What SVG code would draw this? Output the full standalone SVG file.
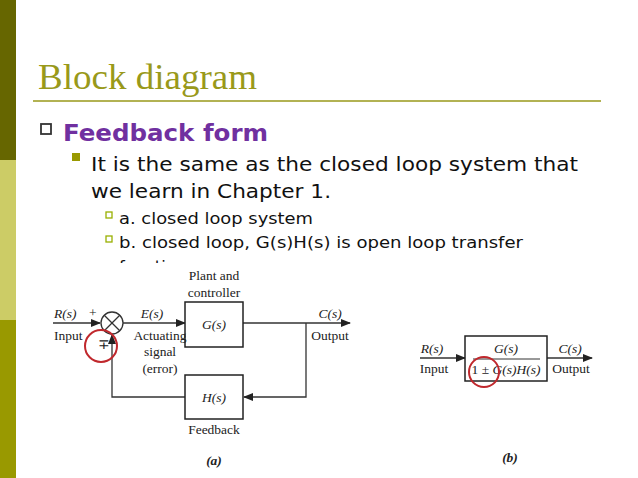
<svg xmlns="http://www.w3.org/2000/svg" width="638" height="478" viewBox="0 0 638 478">
<style>
.s{font-family:"Liberation Serif",serif;font-size:13.5px;fill:#222}
.i{font-style:italic}
.ln{stroke:#333;stroke-width:1.3;fill:none}
.b{font-family:"DejaVu Sans","Noto Sans",sans-serif;fill:#111}
</style>
<defs><marker id="a" markerWidth="10" markerHeight="8" refX="9" refY="4" orient="auto" markerUnits="userSpaceOnUse"><path d="M0,0 L10,4 L0,8 Z" fill="#222"/></marker></defs>
<rect width="638" height="478" fill="#fff"/>
<rect x="0" y="0" width="16" height="160" fill="#666600"/>
<rect x="0" y="160" width="16" height="160" fill="#cccc66"/>
<rect x="0" y="320" width="16" height="158" fill="#999900"/>
<text x="38" y="89" font-family="Liberation Serif,serif" font-size="36" fill="#99991a" textLength="219" lengthAdjust="spacingAndGlyphs">Block diagram</text>
<line x1="33" y1="101" x2="601" y2="101" stroke="#99991a" stroke-width="1.5"/>
<rect x="41" y="124" width="10" height="10" fill="none" stroke="#333" stroke-width="1.8"/>
<text x="63" y="141" font-family="DejaVu Sans,sans-serif" font-weight="bold" font-size="23" fill="#7030a0" textLength="205" lengthAdjust="spacingAndGlyphs">Feedback form</text>
<rect x="72" y="153" width="8" height="8" fill="#999900"/>
<text class="b" x="91" y="171" font-size="20" textLength="487" lengthAdjust="spacingAndGlyphs">It is the same as the closed loop system that</text>
<text class="b" x="91" y="198" font-size="20" textLength="240" lengthAdjust="spacingAndGlyphs">we learn in Chapter 1.</text>
<rect x="106" y="212" width="6" height="6" fill="none" stroke="#99b000" stroke-width="1.3"/>
<text class="b" x="119" y="224" font-size="16.5" textLength="194" lengthAdjust="spacingAndGlyphs">a. closed loop system</text>
<rect x="106" y="236" width="6" height="6" fill="none" stroke="#99b000" stroke-width="1.3"/>
<text class="b" x="119" y="248" font-size="16.5" textLength="404" lengthAdjust="spacingAndGlyphs">b. closed loop, G(s)H(s) is open loop transfer</text>
<text class="b" x="119" y="272" font-size="16.5">function</text>
<rect x="40" y="263" width="590" height="215" fill="#fff"/>
<g id="connectors">
<line class="ln" x1="53" y1="323" x2="100" y2="323" marker-end="url(#a)"/>
<line class="ln" x1="123" y1="323" x2="185" y2="323" marker-end="url(#a)"/>
<line class="ln" x1="243" y1="323" x2="350" y2="323" marker-end="url(#a)"/>
<polyline class="ln" points="306,323 306,397 244,397" marker-end="url(#a)"/>
<polyline class="ln" points="185,397 112,397 112,335" marker-end="url(#a)"/>
<line class="ln" x1="420" y1="358" x2="465" y2="358" marker-end="url(#a)"/>
<line class="ln" x1="547" y1="358" x2="592" y2="358" marker-end="url(#a)"/>
</g>
<g id="sum">
<circle cx="112" cy="323" r="11" fill="#fff" stroke="#333" stroke-width="1.3"/>
<line class="ln" x1="104" y1="315" x2="120" y2="331"/><line class="ln" x1="120" y1="315" x2="104" y2="331"/>
<text class="s" x="89" y="317">+</text>
<text class="s" x="98" y="349">∓</text>
<circle cx="101" cy="346" r="16" fill="none" stroke="#c0282d" stroke-width="2"/>
</g>
<g id="G">
<rect x="185" y="302" width="58" height="45" fill="#fff" stroke="#222" stroke-width="1.5"/>
<text class="s i" x="214" y="329" text-anchor="middle">G(s)</text>
<text class="s" x="214" y="280" text-anchor="middle">Plant and</text>
<text class="s" x="214" y="297" text-anchor="middle">controller</text>
</g>
<g id="H">
<rect x="185" y="375" width="58" height="44" fill="#fff" stroke="#222" stroke-width="1.5"/>
<text class="s i" x="214" y="402" text-anchor="middle">H(s)</text>
<text class="s" x="214" y="434" text-anchor="middle">Feedback</text>
</g>
<g id="labelsA">
<text class="s i" x="54" y="318">R(s)</text>
<text class="s" x="54" y="340">Input</text>
<text class="s i" x="152" y="318" text-anchor="middle">E(s)</text>
<text class="s" x="160" y="340" text-anchor="middle">Actuating</text>
<text class="s" x="160" y="356" text-anchor="middle">signal</text>
<text class="s" x="160" y="373" text-anchor="middle">(error)</text>
<text class="s i" x="330" y="318" text-anchor="middle">C(s)</text>
<text class="s" x="330" y="340" text-anchor="middle">Output</text>
<text class="s i" x="214" y="465" text-anchor="middle" font-weight="bold">(a)</text>
</g>
<g id="closed">
<rect x="465" y="336" width="82" height="45" fill="#fff" stroke="#222" stroke-width="1.5"/>
<text class="s i" x="506" y="353" text-anchor="middle">G(s)</text>
<line x1="473" y1="359" x2="540" y2="359" stroke="#333" stroke-width="1"/>
<text class="s" x="506" y="374" text-anchor="middle">1 ± <tspan font-style="italic">G(s)H(s)</tspan></text>
<circle cx="484" cy="372" r="15" fill="none" stroke="#c0282d" stroke-width="2"/>
<text class="s i" x="432" y="353" text-anchor="middle">R(s)</text>
<text class="s" x="434" y="373" text-anchor="middle">Input</text>
<text class="s i" x="570" y="353" text-anchor="middle">C(s)</text>
<text class="s" x="571" y="373" text-anchor="middle">Output</text>
<text class="s i" x="510" y="462" text-anchor="middle" font-weight="bold">(b)</text>
</g>
</svg>
